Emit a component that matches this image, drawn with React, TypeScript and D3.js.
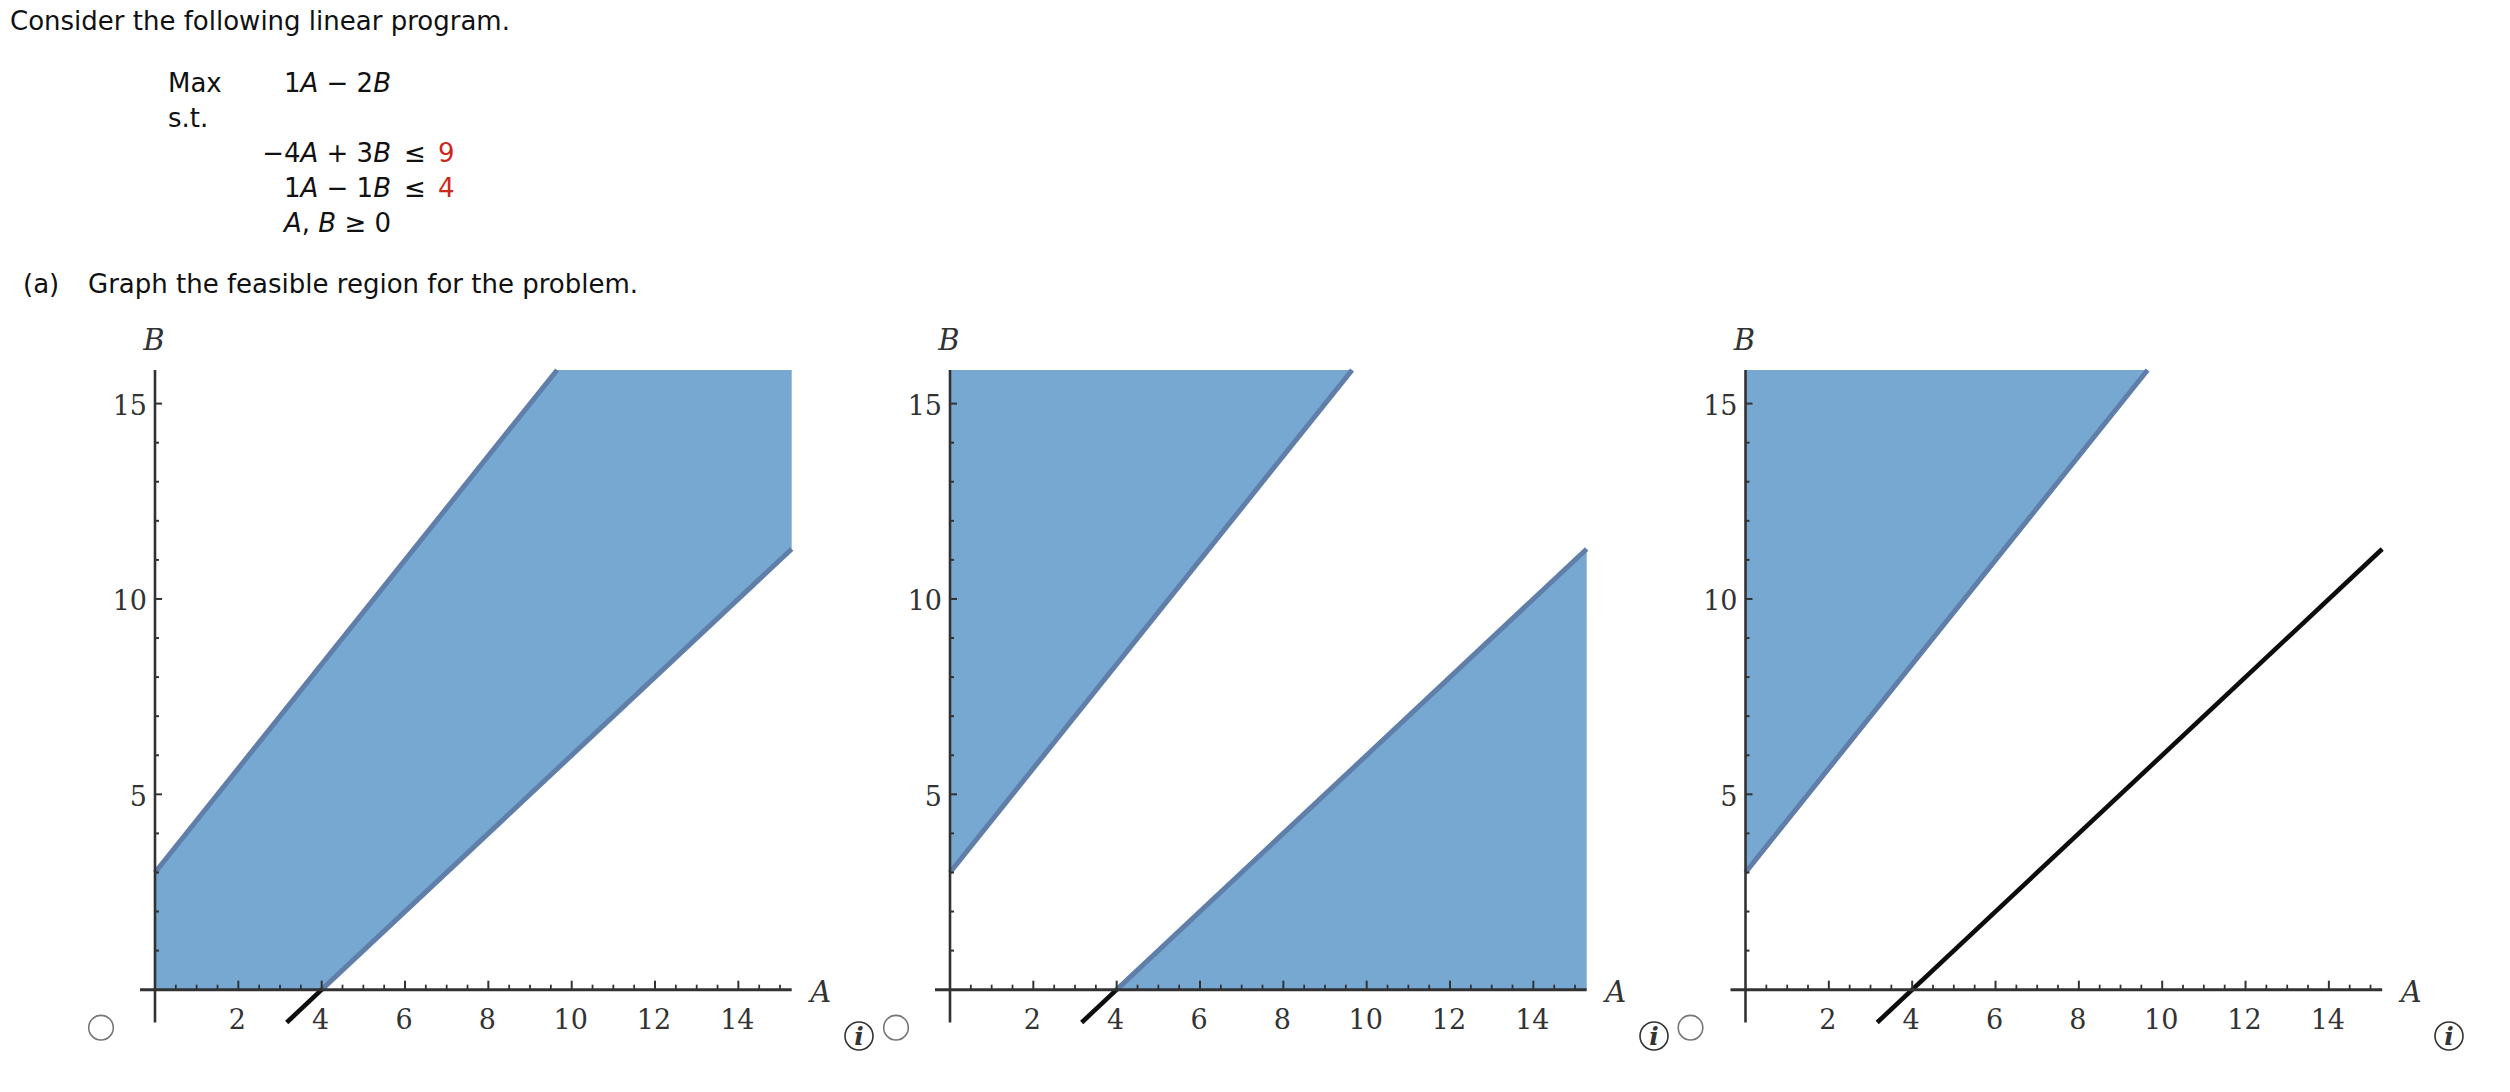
import React from "react";
import * as d3 from "d3";

// Axis extent
const aDomain = [-0.36, 15.28];
const bDomain = [-0.84, 15.86];
const aMajor = [2, 4, 6, 8, 10, 12, 14];
const bMajor = [5, 10, 15];
const aMinor = d3.range(0.5, 15.01, 0.5).filter((v) => v % 2 !== 0);
const bMinor = d3.range(1, 15.01, 1).filter((v) => v % 5 !== 0);

// Constraint lines, clipped to the plot
type Pt = [number, number];
const lineAB: Pt[] = [[3.16, -0.84], [15.28, 11.28]]; // 1A - 1B = 4
const lineABUpper: Pt[] = [[4, 0], [15.28, 11.28]];
const lineABLower: Pt[] = [[3.16, -0.84], [4, 0]];
const lineCons: Pt[] = [[0, 3], [9.65, 15.86]]; // -4A + 3B = 9

// Shaded regions of each option
const regionBetween: Pt[] = [[0, 0], [4, 0], [15.28, 11.28], [15.28, 15.86], [9.65, 15.86], [0, 3]];
const regionUpper: Pt[] = [[0, 3], [9.65, 15.86], [0, 15.86]];
const regionLower: Pt[] = [[4, 0], [15.28, 0], [15.28, 11.28]];

const panelRegions: Pt[][][] = [[regionBetween], [regionUpper, regionLower], [regionUpper]];
const panelEdges: Pt[][][] = [[lineCons, lineABUpper], [lineCons, lineABUpper], [lineCons]];
const panelBlack: Pt[][][] = [[lineABLower], [lineABLower], [lineAB]];

const panelLeft = [140, 935, 1730.5];
const radioX = [101, 896, 1690.5];
const infoX = [859, 1654, 2449];

const serif = "'DejaVu Serif', serif";
const sans = "'DejaVu Sans', sans-serif";
const FILL = "#76a8d2";
const EDGE = "#5f7fa9";
const AXIS = "#333333";

function Panel({ i }: { i: number }) {
  const x = d3.scaleLinear().domain(aDomain).range([panelLeft[i], panelLeft[i] + 651.7]);
  const y = d3.scaleLinear().domain(bDomain).range([1022.5, 370]);
  const line = d3.line<Pt>().x((d) => x(d[0])).y((d) => y(d[1]));
  const poly = (pts: Pt[]) => line(pts) + "Z";
  return (
    <g>
      <g filter="url(#soft)">
        {panelRegions[i].map((r, k) => <path key={k} d={poly(r)} fill={FILL} />)}
        {panelEdges[i].map((r, k) => <path key={k} d={line(r)!} fill="none" stroke={EDGE} strokeWidth={5} />)}
        {panelBlack[i].map((r, k) => <path key={k} d={line(r)!} fill="none" stroke="#111" strokeWidth={4.6} />)}
        <line x1={x(aDomain[0])} x2={x(aDomain[1])} y1={y(0)} y2={y(0)} stroke={AXIS} strokeWidth={3} />
        <line x1={x(0)} x2={x(0)} y1={y(bDomain[0])} y2={y(bDomain[1])} stroke={AXIS} strokeWidth={2.6} />
        {aMajor.map((v) => <line key={v} x1={x(v)} x2={x(v)} y1={y(0)} y2={y(0) - 9} stroke={AXIS} strokeWidth={2} />)}
        {aMinor.map((v) => <line key={v} x1={x(v)} x2={x(v)} y1={y(0)} y2={y(0) - 5} stroke={AXIS} strokeWidth={1.8} />)}
        {bMajor.map((v) => <line key={v} x1={x(0)} x2={x(0) + 7} y1={y(v)} y2={y(v)} stroke={AXIS} strokeWidth={2} />)}
        {bMinor.map((v) => <line key={v} x1={x(0)} x2={x(0) + 4} y1={y(v)} y2={y(v)} stroke={AXIS} strokeWidth={2} />)}
      </g>
      <g fontFamily={serif} fontSize={27} fill="#333">
        {aMajor.map((v) => <text key={v} x={x(v) - 1} y={1029} textAnchor="middle">{v}</text>)}
        {bMajor.map((v) => <text key={v} x={x(0) - 8} y={y(v) + 11.5} textAnchor="end">{v}</text>)}
        <text x={x(aDomain[1]) + 29} y={1002} textAnchor="middle" fontStyle="italic" fontSize={29}>A</text>
        <text x={x(0) - 1} y={350} textAnchor="middle" fontStyle="italic" fontSize={29}>B</text>
      </g>
      <circle cx={radioX[i]} cy={1027.7} r={12.3} fill="#fff" stroke="#777" strokeWidth={1.6} />
      <circle cx={infoX[i]} cy={1036} r={14} fill="#fff" stroke="#333" strokeWidth={1.6} />
      <text x={infoX[i]} y={1045} textAnchor="middle" fontFamily={serif} fontStyle="italic" fontWeight="bold" fontSize={25} fill="#333">i</text>
    </g>
  );
}

function Expr({ y, children }: { y: number; children: React.ReactNode }) {
  return <text x={391} y={y} textAnchor="end">{children}</text>;
}
const I = ({ children }: { children: string }) => <tspan fontStyle="italic">{children}</tspan>;

export default function App() {
  return (
    <svg width={2510} height={1092} style={{ position: "absolute", left: 0, top: 0, background: "#fff" }}>
      <defs>
        <filter id="soft" x="-5%" y="-5%" width="110%" height="110%">
          <feGaussianBlur stdDeviation={0.6} />
        </filter>
      </defs>
      <g fontFamily={sans} fontSize={26} fill="#111">
        <text x={10} y={30}>Consider the following linear program.</text>
        <text x={168} y={92}>Max</text>
        <text x={168} y={127}>s.t.</text>
        <Expr y={92}>1<I>A</I> − 2<I>B</I></Expr>
        <Expr y={162}>−4<I>A</I> + 3<I>B</I></Expr>
        <Expr y={197}>1<I>A</I> − 1<I>B</I></Expr>
        <Expr y={232}><I>A</I>, <I>B</I> ≥ 0</Expr>
        <text x={404} y={162}>≤</text>
        <text x={404} y={197}>≤</text>
        <text x={438} y={162} fill="#cc2a1e">9</text>
        <text x={438} y={197} fill="#cc2a1e">4</text>
        <text x={23} y={293}>(a)</text>
        <text x={88} y={293}>Graph the feasible region for the problem.</text>
      </g>
      {panelLeft.map((_, i) => <Panel key={i} i={i} />)}
    </svg>
  );
}
